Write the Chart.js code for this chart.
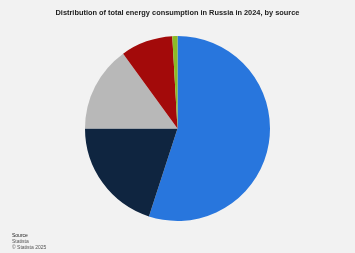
<!DOCTYPE html>
<html>
<head>
<meta charset="utf-8">
<script src="https://cdn.jsdelivr.net/npm/chart.js@4/dist/chart.umd.min.js"></script>
<style>
html,body{margin:0;padding:0;background:#f2f2f2;}
#wrap{position:relative;width:355px;height:253px;overflow:hidden;background:#f2f2f2;font-family:"Liberation Sans",Arial,sans-serif;}
#title{position:absolute;left:0;top:8px;width:355px;text-align:center;font-weight:bold;font-size:7.4px;color:#222;line-height:10px;}
#src{position:absolute;left:12px;top:232px;font-size:5px;line-height:6px;color:#555;}
#src .h{color:#222;}
canvas{position:absolute;left:0;top:0;}
</style>
</head>
<body>
<div id="wrap">
<canvas id="c" width="355" height="253"></canvas>
<div id="title">Distribution of total energy consumption in Russia in 2024, by source</div>
<div id="src"><div class="h">Source</div><div>Statista</div><div>© Statista 2025</div></div>
</div>
<script>
const categories = ["Natural gas", "Oil", "Coal", "Nuclear & hydro", "Renewables"];
const shares = [55, 20, 15, 9.1, 0.9];
const colors = ["#2876dd", "#0f2540", "#b8b8b8", "#a30a0a", "#8dbb25"];

new Chart(document.getElementById('c'), {
  type: 'pie',
  data: {
    labels: categories,
    datasets: [{
      data: shares,
      backgroundColor: colors,
      borderWidth: 0
    }]
  },
  options: {
    responsive: false,
    animation: false,
    layout: { padding: { top: 36, bottom: 32, left: 0, right: 0 } },
    plugins: { legend: { display: false }, tooltip: { enabled: false }, title: { display: false } }
  }
});
</script>
</body>
</html>
